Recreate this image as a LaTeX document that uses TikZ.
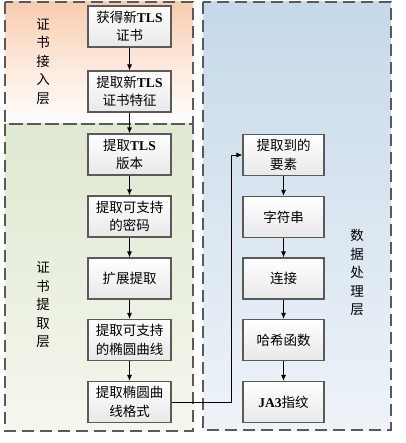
\documentclass[tikz,border=0pt]{standalone}
\usepackage{fontspec}
\setmainfont{Liberation Serif}
\newfontfamily\cjk{Noto Sans CJK SC}
\newfontfamily\latf{Liberation Serif}
\newcommand{\lat}[1]{{\latf\bfseries #1}}
\usetikzlibrary{arrows.meta}
\definecolor{orangeL}{HTML}{F8CCAE}
\definecolor{greenL}{HTML}{DFE8D0}
\definecolor{greenB}{HTML}{F4F7EE}
\definecolor{blueL}{HTML}{C6D9E9}
\definecolor{blueB}{HTML}{EEF3F8}
\definecolor{edge}{HTML}{5A5A5A}
\begin{document}
\begin{tikzpicture}[x=1pt,y=-1pt,
  box/.style={draw=edge,line width=1.1pt,top color=white,bottom color=gray!18,
    minimum height=41pt,inner sep=1pt,align=center,
    font=\cjk\fontsize{13.5}{18.5}\selectfont},
  lbox/.style={box,minimum width=83pt},
  rbox/.style={box,minimum width=81pt},
  layer/.style={align=center,font=\cjk\fontsize{13.5}{18.5}\selectfont},
  border/.style={draw=edge,line width=1.2pt,dash pattern=on 12pt off 6pt},
  arr/.style={draw=black,line width=0.9pt,-{Latex[length=6pt,width=5pt]}}]
\useasboundingbox (0,0) rectangle (405,443);
% regions
\shade[top color=orangeL,bottom color=white,middle color=orangeL!45] (5,2) rectangle (193,124);
\shade[top color=greenL,bottom color=greenB] (5,124) rectangle (193,431);
\shade[top color=blueL,bottom color=blueB] (203,2) rectangle (391,430);
\draw[border] (5,2) rectangle (193,124);
\draw[border] (5,124) rectangle (193,431);
\draw[border] (203,2) rectangle (391,430);
% layer labels
\node[layer] (L1) at (43,61.5) {证\\书\\接\\入\\层};
\node[layer] (L2) at (43,305) {证\\书\\提\\取\\层};
\node[layer] (L3) at (357,272.5) {数\\据\\处\\理\\层};
% left column
\node[lbox] (b1) at (129.5,26.5) {获得新\lat{TLS}\\证书};
\node[lbox] (b2) at (129.5,91.5) {提取新\lat{TLS}\\证书特征};
\node[lbox] (b3) at (129.5,154.5) {提取\lat{TLS}\\版本};
\node[lbox] (b4) at (129.5,216.5) {提取可支持\\的密码};
\node[lbox] (b5) at (129.5,278.5) {扩展提取};
\node[lbox] (b6) at (129.5,340) {提取可支持\\的椭圆曲线};
\node[lbox] (b7) at (129.5,402) {提取椭圆曲\\线格式};
% right column
\node[rbox] (r1) at (283.5,155) {提取到的\\要素};
\node[rbox] (r2) at (283.5,217) {字符串};
\node[rbox] (r3) at (283.5,278.5) {连接};
\node[rbox] (r4) at (283.5,340) {哈希函数};
\node[rbox] (r5) at (283.5,402) {\lat{JA3}指纹};
% arrows
\draw[arr] (b1) -- (b2);
\draw[arr] (b2) -- (b3);
\draw[arr] (b3) -- (b4);
\draw[arr] (b4) -- (b5);
\draw[arr] (b5) -- (b6);
\draw[arr] (b6) -- (b7);
\draw[arr] (r1) -- (r2);
\draw[arr] (r2) -- (r3);
\draw[arr] (r3) -- (r4);
\draw[arr] (r4) -- (r5);
\coordinate (turn) at (231,0);
\draw[arr] (b7.east) -- (b7.east -| turn) |- (r1.west);
\end{tikzpicture}
\end{document}
